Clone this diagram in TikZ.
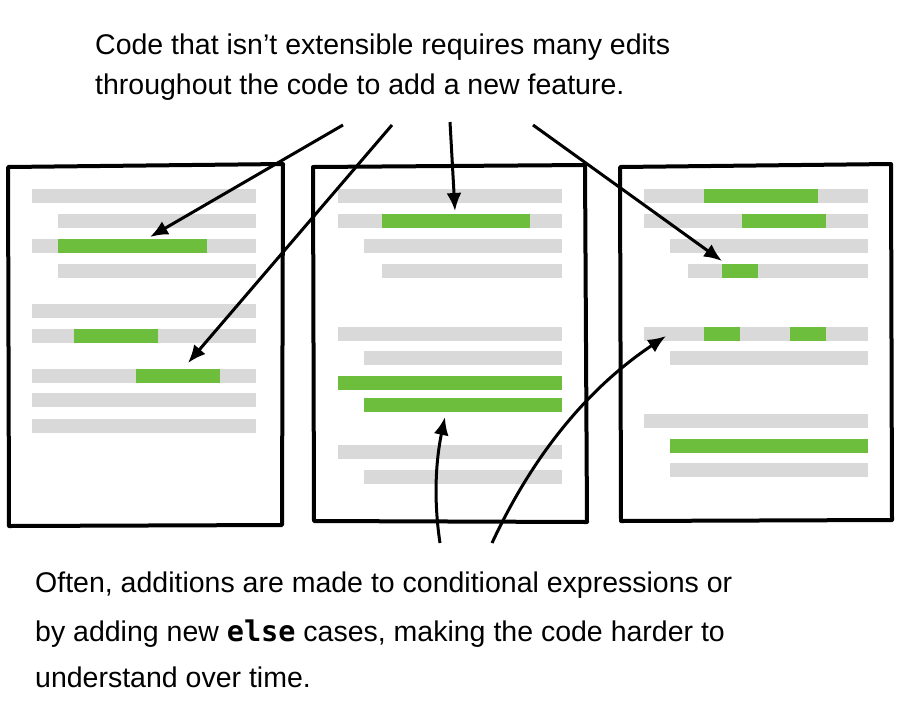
\documentclass[tikz,border=0pt]{standalone}
\usepackage{fontspec}
\setmainfont{Liberation Sans}
\newfontfamily\codefont{DejaVu Sans Mono}
\usetikzlibrary{arrows.meta}
\begin{document}
\begin{tikzpicture}[x=1pt,y=-1pt,
  gb/.style={fill=black!15,draw=none},
  panel/.style={draw=black,line width=4pt,line join=round},
  arr/.style={draw=black,line width=3pt,-{Latex[length=18pt,width=15pt]}},
  txt/.style={anchor=west,font=\fontsize{28.5}{32}\selectfont,inner sep=0pt}]
\useasboundingbox (0,0) rectangle (916,716);
\definecolor{grn}{RGB}{108,190,60}
\tikzset{gr/.style={fill=grn,draw=none}}
% panels
\draw[panel] (8,167) -- (283,164) -- (282,525) -- (9,526) -- cycle;
\draw[panel] (313,167) -- (585,165) -- (587,522) -- (314,521) -- cycle;
\draw[panel] (620,167) -- (891,164) -- (892,520) -- (621,521) -- cycle;
% left bars
\foreach \a/\b/\y in {32/256/196,58/256/221,32/256/246,58/256/271,32/256/311,32/256/336,32/256/376,32/256/400,32/256/426}
  \fill[gb] (\a,\y-7) rectangle (\b,\y+7);
\foreach \a/\b/\y in {58/207/246,74/158/336,136/220/376}
  \fill[gr] (\a,\y-7) rectangle (\b,\y+7);
% middle bars
\foreach \a/\b/\y in {338/562/196,338/562/221,364/562/246,382/562/271,338/562/334,364/562/358,338/562/452,364/562/477}
  \fill[gb] (\a,\y-7) rectangle (\b,\y+7);
\foreach \a/\b/\y in {382/530/221,338/562/383,364/562/405}
  \fill[gr] (\a,\y-7) rectangle (\b,\y+7);
% right bars
\foreach \a/\b/\y in {644/868/196,644/868/221,670/868/246,688/868/271,644/868/334,670/868/358,644/868/421,670/868/470}
  \fill[gb] (\a,\y-7) rectangle (\b,\y+7);
\foreach \a/\b/\y in {704/818/196,742/826/221,722/758/271,704/740/334,790/826/334,670/868/446}
  \fill[gr] (\a,\y-7) rectangle (\b,\y+7);
% texts
\node[txt] (top1) at (95,47) {Code that isn’t extensible requires many edits};
\node[txt] (top2) at (95,87) {throughout the code to add a new feature.};
\node[txt] (bot1) at (35,585) {Often, additions are made to conditional expressions or};
\node[txt] (bot2) at (35,634) {by adding new {\codefont\bfseries else} cases, making the code harder to};
\node[txt] (bot3) at (35,677) {understand over time.};
% arrows
\coordinate (s1) at (343,125); \coordinate (e1) at (150,237);
\coordinate (s2) at (392,125); \coordinate (e2) at (188,363);
\coordinate (s3) at (450,122); \coordinate (e3) at (455,211);
\coordinate (s4) at (533,125); \coordinate (e4) at (722,261);
\coordinate (s5) at (440,543); \coordinate (e5) at (445,417);
\coordinate (s6) at (492,543); \coordinate (e6) at (666,336);
\draw[arr] (s1) -- (e1);
\draw[arr] (s2) -- (e2);
\draw[arr] (s3) -- (e3);
\draw[arr] (s4) -- (e4);
\draw[arr] (s5) .. controls (432,490) and (438,450) .. (e5);
\draw[arr] (s6) .. controls (540,440) and (600,380) .. (e6);
\end{tikzpicture}
\end{document}
